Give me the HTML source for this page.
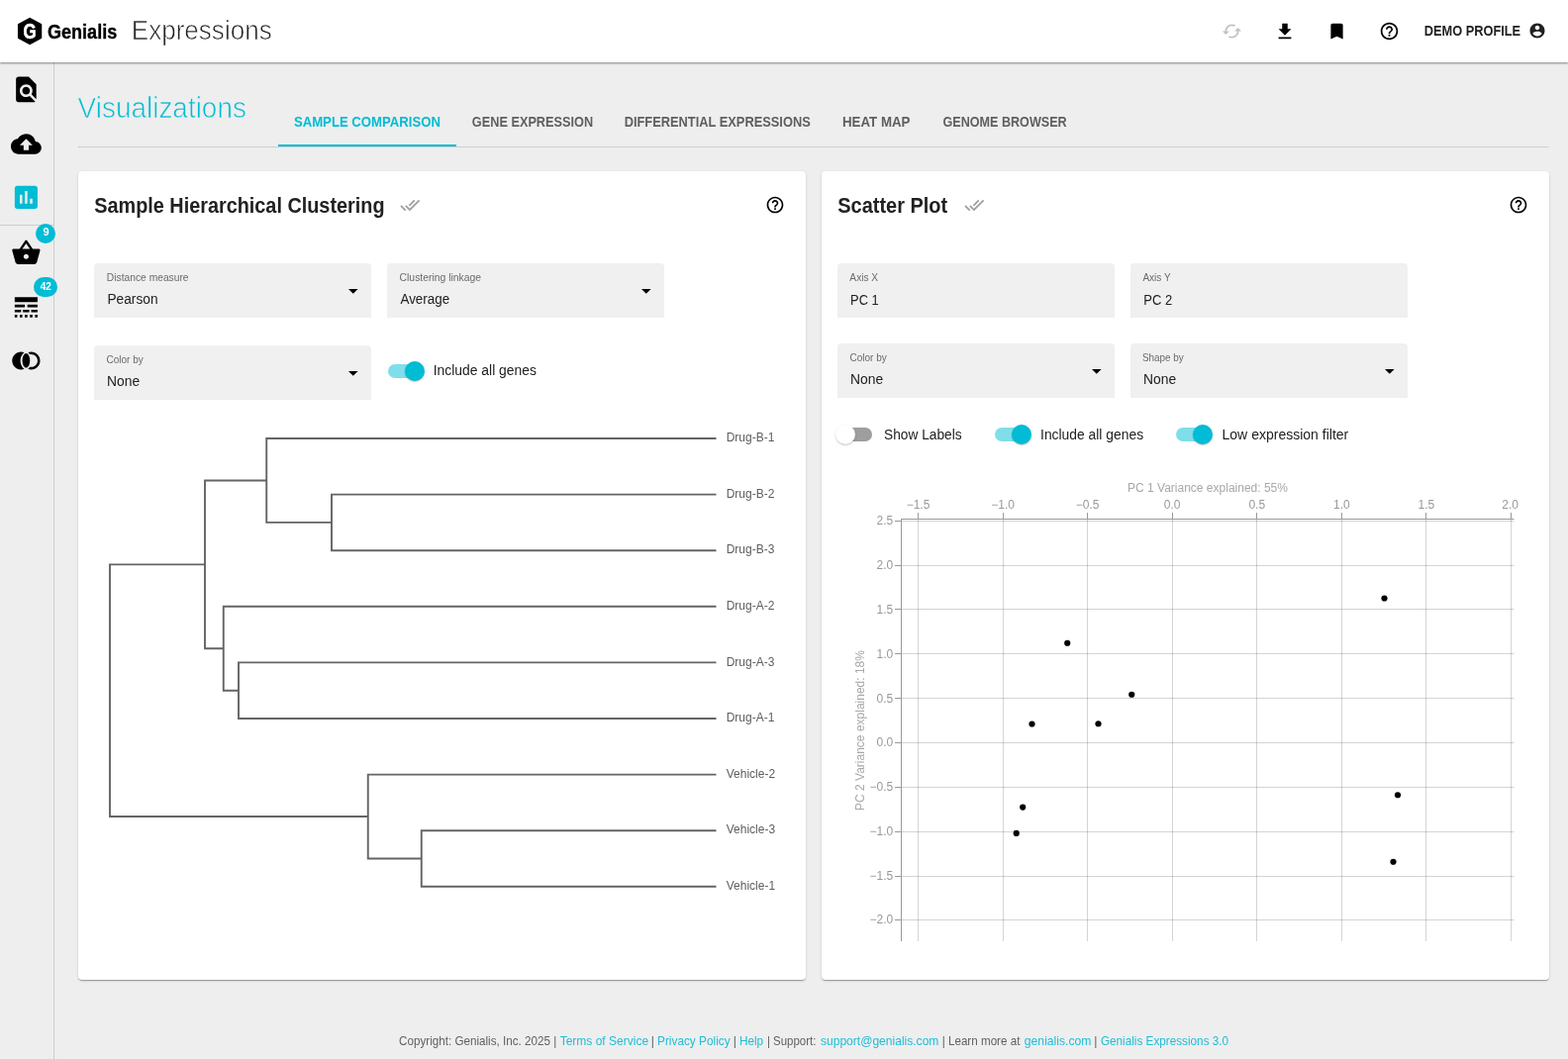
<!DOCTYPE html>
<html lang="en"><head><meta charset="utf-8"><title>Genialis Expressions</title>
<style>
*{box-sizing:border-box}
html,body{margin:0;padding:0}
body{width:1584px;height:1070px;overflow:hidden;background:#eee;position:relative;font-family:'Liberation Sans', sans-serif;}
.b,.ic,.t{position:absolute}
.ic{display:block;overflow:visible}
.t{white-space:nowrap;transform-origin:0 50%;margin:0;padding:0;text-decoration:none;display:block}
h1.t,h2.t{font-weight:400}
</style></head>
<body>
<nav class="b" style="left:0;top:63px;width:55px;height:1007px;border-right:1px solid #cdcdcd"></nav>
<svg class="ic" style="left:11.00px;top:74.50px;" width="30.8" height="30.8" viewBox="0 0 24 24"><path fill="#000" d="M20 19.59V8l-6-6H6c-1.1 0-1.99.9-1.99 2L4 20c0 1.1.89 2 1.99 2H18c.45 0 .85-.15 1.19-.4l-4.43-4.43c-.8.52-1.74.83-2.76.83-2.76 0-5-2.24-5-5s2.24-5 5-5 5 2.24 5 5c0 1.02-.31 1.96-.83 2.75L20 19.59zM9 13c0 1.66 1.34 3 3 3s3-1.34 3-3-1.34-3-3-3-3 1.34-3 3z"/></svg>
<svg class="ic" style="left:10.90px;top:129.90px;" width="30.8" height="30.8" viewBox="0 0 24 24"><path fill="#000" d="M19.35 10.04C18.67 6.59 15.64 4 12 4 9.11 4 6.6 5.64 5.35 8.04 2.34 8.36 0 10.91 0 14c0 3.31 2.69 6 6 6h13c2.76 0 5-2.24 5-5 0-2.64-2.05-4.78-4.65-4.96zM14 13v4h-4v-4H7l5-5 5 5h-3z"/></svg>
<svg class="ic" style="left:10.90px;top:183.80px;" width="30.8" height="30.8" viewBox="0 0 24 24"><path fill="#00bcd4" d="M19 3H5c-1.1 0-2 .9-2 2v14c0 1.1.9 2 2 2h14c1.1 0 2-.9 2-2V5c0-1.1-.9-2-2-2zM9 17H7v-7h2v7zm4 0h-2V7h2v10zm4 0h-2v-4h2v4z"/></svg>
<div class="b" style="left:0px;top:227px;width:54px;height:1px;background:#cdcdcd"></div>
<svg class="ic" style="left:10.80px;top:239.80px;" width="30.8" height="30.8" viewBox="0 0 24 24"><path fill="#000" d="M17.21 9l-4.38-6.56c-.19-.28-.51-.42-.83-.42-.32 0-.64.14-.83.43L6.79 9H2c-.55 0-1 .45-1 1 0 .09.01.18.04.27l2.54 9.27c.23.84 1 1.46 1.92 1.46h13c.92 0 1.69-.62 1.93-1.46l2.54-9.27L23 10c0-.55-.45-1-1-1h-4.79zM9 9l3-4.4L15 9H9zm3 8c-1.1 0-2-.9-2-2s.9-2 2-2 2 .9 2 2-.9 2-2 2z"/></svg>
<svg class="ic" style="left:11.00px;top:295.10px;" width="30.8" height="30.8" viewBox="0 0 24 24"><path fill="#000" d="M3 16h5v-2H3v2zm6.5 0h5v-2h-5v2zm6.5 0h5v-2h-5v2zM3 20h2v-2H3v2zm4 0h2v-2H7v2zm4 0h2v-2h-2v2zm4 0h2v-2h-2v2zm4 0h2v-2h-2v2zM3 12h8v-2H3v2zm10 0h8v-2h-8v2zM3 4v4h18V4H3z"/></svg>
<svg class="ic" style="left:10.7px;top:348.7px" width="30.8" height="30.8" viewBox="0 0 24 24"><ellipse cx="12" cy="12" rx="3" ry="5.74"/><path d="M7.5,12c0-0.97,0.23-4.16,3.03-6.5C9.75,5.19,8.9,5,8,5c-3.86,0-7,3.14-7,7s3.14,7,7,7c0.9,0,1.75-0.19,2.53-0.5C7.73,16.16,7.5,12.97,7.5,12z"/><path d="M16,5c-0.9,0-1.75,0.19-2.53,0.5c0.61,0.51,1.1,1.07,1.49,1.63C15.29,7.05,15.64,7,16,7c2.76,0,5,2.24,5,5s-2.24,5-5,5c-0.36,0-0.71-0.05-1.04-0.13c-0.39,0.56-0.88,1.12-1.49,1.63C14.25,18.81,15.1,19,16,19c3.86,0,7-3.14,7-7S19.86,5,16,5z"/></svg>
<div class="b" style="left:35.9px;top:225.9px;width:20px;height:20px;background:#00bcd4;border-radius:10px"></div>
<span class="t" style="left:43px;top:228px;font-size:11px;line-height:13px;font-weight:700;color:#fff;transform:translateX(0.50px) scaleX(1.0000);">9</span>
<div class="b" style="left:33.8px;top:279.8px;width:24.3px;height:20.2px;background:#00bcd4;border-radius:10.1px"></div>
<span class="t" style="left:40px;top:283px;font-size:11px;line-height:13px;font-weight:700;color:#fff;transform:translateX(0.77px) scaleX(0.9085);">42</span>
<header class="b" style="left:0;top:0;width:1584px;height:63px;background:#fff;box-shadow:0 1px 2px rgba(0,0,0,.45)"></header>
<svg class="ic" style="left:16px;top:16px" width="30" height="32" viewBox="0 0 30 32"><path d="M14.1 2.84 L25.25 8.9 V22.1 L14.1 28.16 L2.95 22.1 V8.9 Z" fill="#000" stroke="#000" stroke-width="2" stroke-linejoin="round"/><text x="14.15" y="23.5" text-anchor="middle" font-family="Liberation Sans, sans-serif" font-weight="700" font-size="21.6" fill="#fff" stroke="#fff" stroke-width="0.7" transform="translate(14.15 0) scale(0.78 1) translate(-14.15 0)">G</text></svg>
<span class="t" style="left:47px;top:20px;font-size:20.4px;line-height:24px;font-weight:700;color:#000;-webkit-text-stroke:0.35px #000;transform:translateX(0.91px) scaleX(0.8863);">Genialis</span>
<span class="t" style="left:132px;top:14px;font-size:27.8px;line-height:33px;font-weight:400;color:#212121;-webkit-text-stroke:0.7px #fff;transform:translateX(0.83px) scaleX(0.9367);">Expressions</span>
<svg class="ic" style="left:1233.50px;top:21.30px;" width="21" height="21" viewBox="0 0 24 24"><path fill="#c2c2c2" d="M19 8l-4 4h3c0 3.31-2.69 6-6 6-1.01 0-1.97-.25-2.8-.7l-1.46 1.46C8.97 19.54 10.43 20 12 20c4.42 0 8-3.58 8-8h3l-4-4zM6 12c0-3.31 2.69-6 6-6 1.01 0 1.97.25 2.8.7l1.46-1.46C15.03 4.46 13.57 4 12 4c-4.42 0-8 3.58-8 8H1l4 4 4-4H6z"/></svg>
<svg class="ic" style="left:1286.80px;top:20.50px;" width="22" height="22" viewBox="0 0 24 24"><path fill="#000" d="M19 9h-4V3H9v6H5l7 7 7-7zM5 18v2h14v-2H5z"/></svg>
<svg class="ic" style="left:1340.10px;top:20.60px;" width="21" height="21" viewBox="0 0 24 24"><path fill="#000" d="M17 3H7c-1.1 0-1.99.9-1.99 2L5 21l7-3 7 3V5c0-1.1-.9-2-2-2z"/></svg>
<svg class="ic" style="left:1392.90px;top:20.90px;" width="21" height="21" viewBox="0 0 24 24"><path fill="#000" d="M11 18h2v-2h-2v2zm1-16C6.48 2 2 6.48 2 12s4.48 10 10 10 10-4.48 10-10S17.52 2 12 2zm0 18c-4.41 0-8-3.59-8-8s3.59-8 8-8 8 3.59 8 8-3.59 8-8 8zm0-14c-2.21 0-4 1.79-4 4h2c0-1.1.9-2 2-2s2 .9 2 2c0 2-3 1.75-3 5h2c0-2.25 3-2.5 3-5 0-2.21-1.79-4-4-4z"/></svg>
<span class="t" style="left:1438px;top:23px;font-size:14.4px;line-height:17px;font-weight:700;color:#212121;transform:translateX(0.82px) scaleX(0.8882);">DEMO PROFILE</span>
<svg class="ic" style="left:1544.10px;top:21.80px;" width="18" height="18" viewBox="0 0 24 24"><path fill="#212121" d="M12 2C6.48 2 2 6.48 2 12s4.48 10 10 10 10-4.48 10-10S17.52 2 12 2zm0 3c1.66 0 3 1.34 3 3s-1.34 3-3 3-3-1.34-3-3 1.34-3 3-3zm0 14.2c-2.5 0-4.71-1.28-6-3.22.03-1.99 4-3.08 6-3.08 1.99 0 5.97 1.09 6 3.08-1.29 1.94-3.5 3.22-6 3.22z"/></svg>
<h1 class="t" style="left:78px;top:91px;font-size:29.4px;line-height:35px;font-weight:400;color:#00bcd4;-webkit-text-stroke:0.7px #eee;transform:translateX(0.60px) scaleX(0.9505);">Visualizations</h1>
<div class="b" style="left:79px;top:148px;width:1485px;height:1px;background:#cfcfcf"></div>
<div class="b" style="left:1564px;top:148px;width:1px;height:1px;background:#dcdcdc"></div>
<div class="b" style="left:79px;top:148px;width:1px;height:1px;background:#b4b4b4"></div>
<div class="b" style="left:281px;top:146px;width:180px;height:2px;background:#00bcd4"></div>
<span class="t" style="left:296px;top:115px;font-size:14.4px;line-height:17px;font-weight:700;color:#00bcd4;transform:translateX(0.88px) scaleX(0.9140);">SAMPLE COMPARISON</span>
<span class="t" style="left:476px;top:115px;font-size:14.4px;line-height:17px;font-weight:700;color:#5f5f5f;transform:translateX(0.87px) scaleX(0.8832);">GENE EXPRESSION</span>
<span class="t" style="left:630px;top:115px;font-size:14.4px;line-height:17px;font-weight:700;color:#5f5f5f;transform:translateX(0.66px) scaleX(0.8921);">DIFFERENTIAL EXPRESSIONS</span>
<span class="t" style="left:850px;top:115px;font-size:14.4px;line-height:17px;font-weight:700;color:#5f5f5f;transform:translateX(0.97px) scaleX(0.9248);">HEAT MAP</span>
<span class="t" style="left:952px;top:115px;font-size:14.4px;line-height:17px;font-weight:700;color:#5f5f5f;transform:translateX(0.44px) scaleX(0.8752);">GENOME BROWSER</span>
<div class="b" style="left:79px;top:173px;width:735px;height:817px;background:#fff;border-radius:4px;box-shadow:0 2px 1px -1px rgba(0,0,0,.2),0 1px 1px 0 rgba(0,0,0,.14),0 1px 3px 0 rgba(0,0,0,.12)"></div>
<div class="b" style="left:830px;top:173px;width:735px;height:817px;background:#fff;border-radius:4px;box-shadow:0 2px 1px -1px rgba(0,0,0,.2),0 1px 1px 0 rgba(0,0,0,.14),0 1px 3px 0 rgba(0,0,0,.12)"></div>
<h2 class="t" style="left:95px;top:195px;font-size:21.4px;line-height:26px;font-weight:700;color:#212121;transform:translateX(0.29px) scaleX(0.9272);">Sample Hierarchical Clustering</h2>
<svg class="ic" style="left:404.05px;top:197.25px;" width="20.5" height="20.5" viewBox="0 0 24 24"><path fill="#9e9e9e" d="M18 7l-1.41-1.41-6.34 6.34 1.41 1.41L18 7zm4.24-1.41L11.66 16.17 7.48 12l-1.41 1.41L11.66 19l12-12-1.42-1.41zM.41 13.41L6 19l1.41-1.41L1.83 12 .41 13.41z"/></svg>
<svg class="ic" style="left:773.40px;top:197.40px;" width="20" height="20" viewBox="0 0 24 24"><path fill="#000" d="M11 18h2v-2h-2v2zm1-16C6.48 2 2 6.48 2 12s4.48 10 10 10 10-4.48 10-10S17.52 2 12 2zm0 18c-4.41 0-8-3.59-8-8s3.59-8 8-8 8 3.59 8 8-3.59 8-8 8zm0-14c-2.21 0-4 1.79-4 4h2c0-1.1.9-2 2-2s2 .9 2 2c0 2-3 1.75-3 5h2c0-2.25 3-2.5 3-5 0-2.21-1.79-4-4-4z"/></svg>
<h2 class="t" style="left:846px;top:195px;font-size:21.4px;line-height:26px;font-weight:700;color:#212121;transform:translateX(0.25px) scaleX(0.9331);">Scatter Plot</h2>
<svg class="ic" style="left:974.05px;top:197.25px;" width="20.5" height="20.5" viewBox="0 0 24 24"><path fill="#9e9e9e" d="M18 7l-1.41-1.41-6.34 6.34 1.41 1.41L18 7zm4.24-1.41L11.66 16.17 7.48 12l-1.41 1.41L11.66 19l12-12-1.42-1.41zM.41 13.41L6 19l1.41-1.41L1.83 12 .41 13.41z"/></svg>
<svg class="ic" style="left:1524.40px;top:197.40px;" width="20" height="20" viewBox="0 0 24 24"><path fill="#000" d="M11 18h2v-2h-2v2zm1-16C6.48 2 2 6.48 2 12s4.48 10 10 10 10-4.48 10-10S17.52 2 12 2zm0 18c-4.41 0-8-3.59-8-8s3.59-8 8-8 8 3.59 8 8-3.59 8-8 8zm0-14c-2.21 0-4 1.79-4 4h2c0-1.1.9-2 2-2s2 .9 2 2c0 2-3 1.75-3 5h2c0-2.25 3-2.5 3-5 0-2.21-1.79-4-4-4z"/></svg>
<div class="b" style="left:95px;top:266px;width:280px;height:55px;background:#f0f0f0;border-radius:4px 4px 0 0"></div><span class="t" style="left:107px;top:273px;font-size:11.45px;line-height:14px;font-weight:400;color:#6b6b6b;transform:translateX(0.87px) scaleX(0.8970);">Distance measure</span><span class="t" style="left:108px;top:293px;font-size:15.25px;line-height:18px;font-weight:400;color:#212121;transform:translateX(0.49px) scaleX(0.8980);">Pearson</span><svg class="ic" style="left:351.80px;top:291.80px" width="9.6" height="4.8" viewBox="0 0 10 5"><path d="M0 0h10L5 5z" fill="#000"/></svg>
<div class="b" style="left:391px;top:266px;width:280px;height:55px;background:#f0f0f0;border-radius:4px 4px 0 0"></div><span class="t" style="left:403px;top:273px;font-size:11.45px;line-height:14px;font-weight:400;color:#6b6b6b;transform:translateX(0.55px) scaleX(0.9085);">Clustering linkage</span><span class="t" style="left:404px;top:293px;font-size:15.25px;line-height:18px;font-weight:400;color:#212121;transform:translateX(0.41px) scaleX(0.8823);">Average</span><svg class="ic" style="left:647.80px;top:291.80px" width="9.6" height="4.8" viewBox="0 0 10 5"><path d="M0 0h10L5 5z" fill="#000"/></svg>
<div class="b" style="left:95px;top:349px;width:280px;height:55px;background:#f0f0f0;border-radius:4px 4px 0 0"></div><span class="t" style="left:107px;top:356px;font-size:11.45px;line-height:14px;font-weight:400;color:#6b6b6b;transform:translateX(0.41px) scaleX(0.8759);">Color by</span><span class="t" style="left:108px;top:376px;font-size:15.25px;line-height:18px;font-weight:400;color:#212121;transform:translateX(0.02px) scaleX(0.9093);">None</span><svg class="ic" style="left:351.80px;top:374.80px" width="9.6" height="4.8" viewBox="0 0 10 5"><path d="M0 0h10L5 5z" fill="#000"/></svg>
<div class="b" style="left:846px;top:266px;width:280px;height:55px;background:#f0f0f0;border-radius:4px 4px 0 0"></div><span class="t" style="left:858px;top:273px;font-size:11.45px;line-height:14px;font-weight:400;color:#6b6b6b;transform:translateX(0.37px) scaleX(0.8861);">Axis X</span><span class="t" style="left:859px;top:294px;font-size:15.25px;line-height:18px;font-weight:400;color:#212121;transform:translateX(0.09px) scaleX(0.8419);">PC 1</span>
<div class="b" style="left:1142px;top:266px;width:280px;height:55px;background:#f0f0f0;border-radius:4px 4px 0 0"></div><span class="t" style="left:1154px;top:273px;font-size:11.45px;line-height:14px;font-weight:400;color:#6b6b6b;transform:translateX(0.39px) scaleX(0.8778);">Axis Y</span><span class="t" style="left:1155px;top:294px;font-size:15.25px;line-height:18px;font-weight:400;color:#212121;transform:translateX(0.25px) scaleX(0.8527);">PC 2</span>
<div class="b" style="left:846px;top:347px;width:280px;height:55px;background:#f0f0f0;border-radius:4px 4px 0 0"></div><span class="t" style="left:858px;top:354px;font-size:11.45px;line-height:14px;font-weight:400;color:#6b6b6b;transform:translateX(0.41px) scaleX(0.8759);">Color by</span><span class="t" style="left:859px;top:374px;font-size:15.25px;line-height:18px;font-weight:400;color:#212121;transform:translateX(0.02px) scaleX(0.9093);">None</span><svg class="ic" style="left:1102.80px;top:372.80px" width="9.6" height="4.8" viewBox="0 0 10 5"><path d="M0 0h10L5 5z" fill="#000"/></svg>
<div class="b" style="left:1142px;top:347px;width:280px;height:55px;background:#f0f0f0;border-radius:4px 4px 0 0"></div><span class="t" style="left:1153px;top:354px;font-size:11.45px;line-height:14px;font-weight:400;color:#6b6b6b;transform:translateX(0.91px) scaleX(0.8666);">Shape by</span><span class="t" style="left:1155px;top:374px;font-size:15.25px;line-height:18px;font-weight:400;color:#212121;transform:translateX(0.02px) scaleX(0.9093);">None</span><svg class="ic" style="left:1398.80px;top:372.80px" width="9.6" height="4.8" viewBox="0 0 10 5"><path d="M0 0h10L5 5z" fill="#000"/></svg>
<div class="b" style="left:392px;top:368px;width:36px;height:14px;background:#80deea;border-radius:7px"></div><div class="b" style="left:409.2px;top:365px;width:20px;height:20px;background:#00bcd4;border-radius:50%;box-shadow:0 1px 1px -1px rgba(0,0,0,.2),0 1px 1px 0 rgba(0,0,0,.1),0 1px 3px 0 rgba(0,0,0,.12)"></div><span class="t" style="left:437px;top:365px;font-size:15.25px;line-height:18px;font-weight:400;color:#212121;transform:translateX(0.66px) scaleX(0.9116);">Include all genes</span>
<div class="b" style="left:845px;top:432.2px;width:36px;height:14px;background:#9e9e9e;border-radius:7px"></div><div class="b" style="left:843.7px;top:429.2px;width:20px;height:20px;background:#fff;border-radius:50%;box-shadow:0 1px 1px -1px rgba(0,0,0,.2),0 1px 1px 0 rgba(0,0,0,.1),0 1px 3px 0 rgba(0,0,0,.12)"></div><span class="t" style="left:893px;top:430px;font-size:15.25px;line-height:18px;font-weight:400;color:#212121;transform:translateX(0.02px) scaleX(0.8998);">Show Labels</span>
<div class="b" style="left:1005px;top:432.2px;width:36px;height:14px;background:#80deea;border-radius:7px"></div><div class="b" style="left:1022.2px;top:429.2px;width:20px;height:20px;background:#00bcd4;border-radius:50%;box-shadow:0 1px 1px -1px rgba(0,0,0,.2),0 1px 1px 0 rgba(0,0,0,.1),0 1px 3px 0 rgba(0,0,0,.12)"></div><span class="t" style="left:1051px;top:430px;font-size:15.25px;line-height:18px;font-weight:400;color:#212121;transform:translateX(0.04px) scaleX(0.9088);">Include all genes</span>
<div class="b" style="left:1188px;top:432.2px;width:36px;height:14px;background:#80deea;border-radius:7px"></div><div class="b" style="left:1205.2px;top:429.2px;width:20px;height:20px;background:#00bcd4;border-radius:50%;box-shadow:0 1px 1px -1px rgba(0,0,0,.2),0 1px 1px 0 rgba(0,0,0,.1),0 1px 3px 0 rgba(0,0,0,.12)"></div><span class="t" style="left:1234px;top:430px;font-size:15.25px;line-height:18px;font-weight:400;color:#212121;transform:translateX(0.54px) scaleX(0.9186);">Low expression filter</span>
<svg class="ic" style="left:79px;top:420px" width="735" height="520" viewBox="79 420 735 520"><path d="M207.00 570.35H111.00V825.05H371.75M269.25 485.45H207.00V655.25H225.75M723.50 443.00H269.25V527.90H335.00M723.50 499.60H335.00V556.20H723.50M723.50 612.80H225.75V697.70H241.00M723.50 669.40H241.00V726.00H723.50M723.50 782.60H371.75V867.50H425.75M723.50 839.20H425.75V895.80H723.50" fill="none" stroke="#646464" stroke-width="1.9" stroke-linejoin="miter"/><g font-family="Liberation Sans, sans-serif" font-size="12" fill="#5e5e5e"><text x="733.7" y="446.00">Drug-B-1</text><text x="733.7" y="502.60">Drug-B-2</text><text x="733.7" y="559.20">Drug-B-3</text><text x="733.7" y="615.80">Drug-A-2</text><text x="733.7" y="672.70">Drug-A-3</text><text x="733.7" y="729.00">Drug-A-1</text><text x="733.7" y="785.60">Vehicle-2</text><text x="733.7" y="842.20">Vehicle-3</text><text x="733.7" y="898.80">Vehicle-1</text></g></svg>
<svg class="ic" style="left:830px;top:480px" width="735" height="490" viewBox="830 480 735 490"><g stroke="#000" stroke-opacity="0.17" stroke-width="1" fill="none"><path d="M927.5 525V951"/><path d="M1013.5 525V951"/><path d="M1098.5 525V951"/><path d="M1184.5 525V951"/><path d="M1269.5 525V951"/><path d="M1355.5 525V951"/><path d="M1440.5 525V951"/><path d="M1526.5 525V951"/><path d="M911 526.5H1529.5"/><path d="M911 571.5H1529.5"/><path d="M911 615.5H1529.5"/><path d="M911 660.5H1529.5"/><path d="M911 705.5H1529.5"/><path d="M911 750.5H1529.5"/><path d="M911 795.5H1529.5"/><path d="M911 840.5H1529.5"/><path d="M911 885.5H1529.5"/><path d="M911 929.5H1529.5"/></g><g stroke="#999" stroke-width="1" fill="none"><path d="M910.5 524V951"/><path d="M910 524.5H1529.5"/><path d="M927.5 518V524"/><path d="M1013.5 518V524"/><path d="M1098.5 518V524"/><path d="M1184.5 518V524"/><path d="M1269.5 518V524"/><path d="M1355.5 518V524"/><path d="M1440.5 518V524"/><path d="M1526.5 518V524"/><path d="M904 526.5H910"/><path d="M904 571.5H910"/><path d="M904 615.5H910"/><path d="M904 660.5H910"/><path d="M904 705.5H910"/><path d="M904 750.5H910"/><path d="M904 795.5H910"/><path d="M904 840.5H910"/><path d="M904 885.5H910"/><path d="M904 929.5H910"/></g><g font-family="Liberation Sans, sans-serif" font-size="12" fill="#999"><text x="927.50" y="514" text-anchor="middle">−1.5</text><text x="1013.07" y="514" text-anchor="middle">−1.0</text><text x="1098.64" y="514" text-anchor="middle">−0.5</text><text x="1184.21" y="514" text-anchor="middle">0.0</text><text x="1269.78" y="514" text-anchor="middle">0.5</text><text x="1355.36" y="514" text-anchor="middle">1.0</text><text x="1440.93" y="514" text-anchor="middle">1.5</text><text x="1525.70" y="514" text-anchor="middle">2.0</text><text x="902.3" y="530.40" text-anchor="end">2.5</text><text x="902.3" y="575.18" text-anchor="end">2.0</text><text x="902.3" y="619.96" text-anchor="end">1.5</text><text x="902.3" y="664.73" text-anchor="end">1.0</text><text x="902.3" y="709.51" text-anchor="end">0.5</text><text x="902.3" y="754.29" text-anchor="end">0.0</text><text x="902.3" y="799.07" text-anchor="end">−0.5</text><text x="902.3" y="843.85" text-anchor="end">−1.0</text><text x="902.3" y="888.62" text-anchor="end">−1.5</text><text x="902.3" y="933.40" text-anchor="end">−2.0</text><text x="1220" y="497" text-anchor="middle" fill="#a8a8a8">PC 1 Variance explained: 55%</text><text transform="translate(872.8 738) rotate(-90)" text-anchor="middle" fill="#a8a8a8">PC 2 Variance explained: 18%</text></g><g fill="#000"><circle cx="1398.5" cy="604.5" r="3.1"/><circle cx="1078.25" cy="649.75" r="3.1"/><circle cx="1143.25" cy="701.75" r="3.1"/><circle cx="1042.5" cy="731.5" r="3.1"/><circle cx="1109.5" cy="731.25" r="3.1"/><circle cx="1412" cy="803.25" r="3.1"/><circle cx="1033.2" cy="815.6" r="3.1"/><circle cx="1026.7" cy="841.9" r="3.1"/><circle cx="1407.5" cy="870.75" r="3.1"/></g></svg>
<footer>
<span class="t" style="left:403px;top:1045px;font-size:12.2px;line-height:15px;font-weight:400;color:#616161;transform:translateX(0.07px) scaleX(0.9561);">Copyright: Genialis, Inc. 2025 |</span>
<a class="t" style="left:565px;top:1045px;font-size:12.2px;line-height:15px;font-weight:400;color:#1fbdd6;transform:translateX(0.66px) scaleX(0.9855);">Terms of Service</a>
<span class="t" style="left:657px;top:1045px;font-size:12.2px;line-height:15px;font-weight:400;color:#616161;transform:translateX(0.79px) scaleX(1.0000);">|</span>
<a class="t" style="left:664px;top:1045px;font-size:12.2px;line-height:15px;font-weight:400;color:#1fbdd6;transform:translateX(0.03px) scaleX(0.9698);">Privacy Policy</a>
<span class="t" style="left:740px;top:1045px;font-size:12.2px;line-height:15px;font-weight:400;color:#616161;transform:translateX(0.79px) scaleX(1.0000);">|</span>
<a class="t" style="left:746px;top:1045px;font-size:12.2px;line-height:15px;font-weight:400;color:#1fbdd6;transform:translateX(0.91px) scaleX(0.9669);">Help</a>
<span class="t" style="left:774px;top:1045px;font-size:12.2px;line-height:15px;font-weight:400;color:#616161;transform:translateX(0.88px) scaleX(0.9398);">| Support:</span>
<a class="t" style="left:828px;top:1045px;font-size:12.2px;line-height:15px;font-weight:400;color:#1fbdd6;transform:translateX(0.96px) scaleX(0.9888);">support@genialis.com</a>
<span class="t" style="left:951px;top:1045px;font-size:12.2px;line-height:15px;font-weight:400;color:#616161;transform:translateX(0.68px) scaleX(0.9549);">| Learn more at</span>
<a class="t" style="left:1034px;top:1045px;font-size:12.2px;line-height:15px;font-weight:400;color:#1fbdd6;transform:translateX(0.85px) scaleX(0.9973);">genialis.com</a>
<span class="t" style="left:1105px;top:1045px;font-size:12.2px;line-height:15px;font-weight:400;color:#616161;transform:translateX(0.22px) scaleX(1.0000);">|</span>
<a class="t" style="left:1111px;top:1045px;font-size:12.2px;line-height:15px;font-weight:400;color:#1fbdd6;transform:translateX(0.93px) scaleX(0.9629);">Genialis Expressions 3.0</a>
</footer>
</body></html>
